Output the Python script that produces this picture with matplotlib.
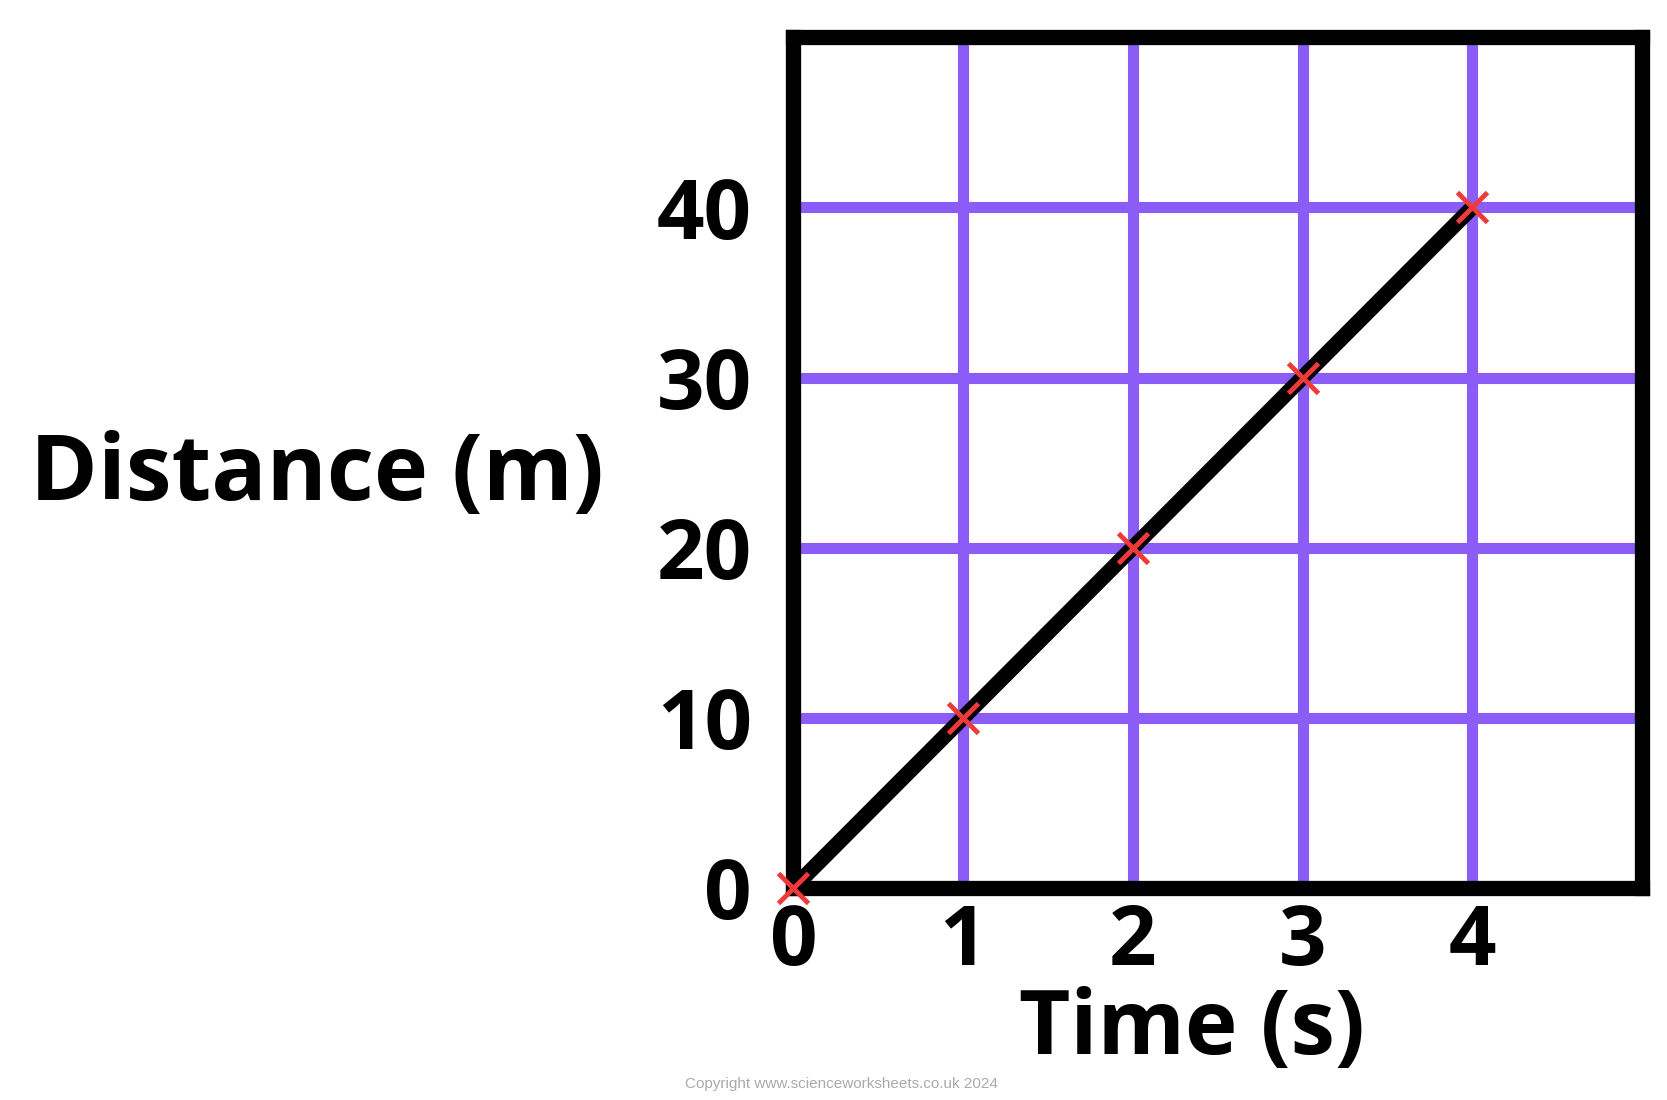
import matplotlib.pyplot as plt

plt.rcParams['font.family'] = ['Open Sans', 'DejaVu Sans']

time_s = [0, 1, 2, 3, 4]
distance_m = [0, 10, 20, 30, 40]
x_ticks = [0, 1, 2, 3, 4]
y_ticks = [0, 10, 20, 30, 40]

purple = "#8b5cf6"

fig = plt.figure(figsize=(16.67, 11), dpi=100)
ax = fig.add_axes([0.476, 0.193, 0.509, 0.773])
ax.set_xlim(0, 5)
ax.set_ylim(0, 50)

for x in x_ticks[1:]:
    ax.axvline(x, color=purple, lw=8, zorder=1)
for y in y_ticks[1:]:
    ax.axhline(y, xmax=0.987, color=purple, lw=8, zorder=1)

ax.plot(time_s, distance_m, color="black", lw=11, solid_capstyle="butt", zorder=2)
ax.plot(time_s, distance_m, ls="none", marker="x", ms=22, mew=3.5, color="#f03a3a",
        zorder=3, clip_on=False)

for s in ax.spines.values():
    s.set_linewidth(11)
    s.set_color("black")

ax.set_xticks(x_ticks)
ax.set_yticks(y_ticks)
ax.tick_params(axis="x", length=0, labelsize=60, pad=10)
ax.tick_params(axis="y", length=0, labelsize=60, pad=30)
for lab in ax.get_xticklabels() + ax.get_yticklabels():
    lab.set_fontweight("bold")
    lab.set_fontstretch("expanded")

fig.text(0.19, 0.567, "Distance (m)", fontsize=66, fontweight="bold", ha="center", va="center")
fig.text(0.715, 0.063, "Time (s)", fontsize=64, fontweight="bold", ha="center", va="center")
fig.text(0.505, 0.008, "Copyright www.scienceworksheets.co.uk 2024", fontsize=11,
         color="#aaaaaa", ha="center", va="bottom", family="Liberation Sans")

fig.savefig("out.png", dpi=100, facecolor="white")
